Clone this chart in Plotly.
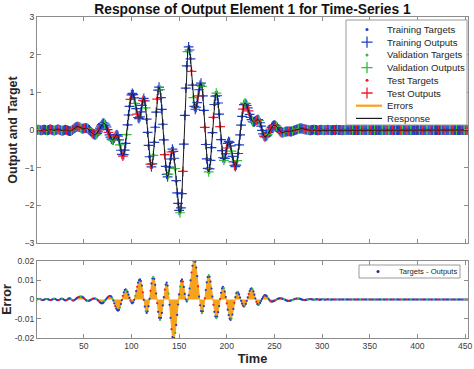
import plotly.graph_objects as go

N = 453
time = list(range(1, N + 1))

# Target values (t = 1..453)
targets = [
    0.00, 0.01, 0.01, 0.00, -0.01, -0.01, 0.00, 0.01, 0.01, 0.00,
    -0.01, -0.01, 0.00, 0.01, 0.02, 0.01, 0.00, -0.01, -0.02, -0.01,
    0.00, 0.01, 0.02, 0.01, 0.00, -0.01, -0.02, -0.02, -0.01, 0.00,
    0.01, 0.00, -0.01, -0.02, -0.03, -0.03, -0.02, 0.00, 0.02, 0.04,
    0.06, 0.08, 0.09, 0.09, 0.08, 0.07, 0.05, 0.04, 0.04, 0.04,
    0.05, 0.05, 0.05, 0.04, 0.02, 0.00, -0.03, -0.06, -0.09, -0.11,
    -0.12, -0.13, -0.12, -0.09, -0.05, 0.00, 0.05, 0.10, 0.14, 0.17,
    0.18, 0.17, 0.13, 0.08, 0.01, -0.06, -0.13, -0.19, -0.24, -0.27,
    -0.26, -0.22, -0.17, -0.14, -0.13, -0.17, -0.27, -0.40, -0.54, -0.65,
    -0.69, -0.65, -0.53, -0.35, -0.12, 0.14, 0.40, 0.63, 0.81, 0.93,
    0.97, 0.94, 0.85, 0.71, 0.57, 0.43, 0.34, 0.31, 0.36, 0.49,
    0.66, 0.79, 0.84, 0.77, 0.58, 0.28, -0.07, -0.41, -0.71, -0.90,
    -0.97, -0.89, -0.66, -0.32, 0.08, 0.48, 0.82, 1.05, 1.13, 1.06,
    0.85, 0.54, 0.15, -0.26, -0.65, -0.96, -1.17, -1.24, -1.17, -0.99,
    -0.78, -0.60, -0.53, -0.59, -0.77, -1.04, -1.36, -1.68, -1.95, -2.13,
    -2.19, -2.06, -1.68, -1.09, -0.37, 0.39, 1.11, 1.70, 2.08, 2.21,
    2.13, 1.90, 1.57, 1.21, 0.88, 0.65, 0.57, 0.62, 0.74, 0.91,
    1.07, 1.19, 1.24, 1.15, 0.90, 0.52, 0.07, -0.38, -0.76, -1.01,
    -1.10, -1.02, -0.80, -0.46, -0.07, 0.33, 0.67, 0.89, 0.97, 0.90,
    0.71, 0.42, 0.09, -0.25, -0.54, -0.73, -0.80, -0.75, -0.63, -0.48,
    -0.36, -0.31, -0.34, -0.43, -0.57, -0.71, -0.85, -0.94, -0.97, -0.93,
    -0.81, -0.62, -0.39, -0.13, 0.13, 0.36, 0.55, 0.67, 0.71, 0.70,
    0.65, 0.59, 0.51, 0.42, 0.34, 0.28, 0.23, 0.22, 0.22, 0.24,
    0.26, 0.27, 0.27, 0.25, 0.19, 0.10, -0.01, -0.10, -0.16, -0.18,
    -0.17, -0.15, -0.12, -0.07, -0.03, 0.02, 0.07, 0.10, 0.12, 0.13,
    0.12, 0.10, 0.07, 0.03, -0.01, -0.04, -0.06, -0.07, -0.07, -0.06,
    -0.05, -0.04, -0.04, -0.04, -0.04, -0.04, -0.04, -0.04, -0.03, -0.02,
    -0.01, 0.00, 0.01, 0.02, 0.03, 0.04, 0.04, 0.04, 0.04, 0.03,
    0.02, 0.02, 0.01, 0.01, 0.00, 0.00, -0.01, -0.01, 0.00, 0.00,
    0.01, 0.01, 0.00, 0.00, -0.01, -0.01, 0.00, 0.00, 0.01, 0.00,
    0.00, -0.01, 0.00, 0.00, 0.00, 0.01, 0.00, 0.00, 0.00, -0.01,
    0.00, 0.00, 0.00, 0.00, 0.01, 0.00, 0.00, 0.00, 0.00, 0.00,
    -0.01, 0.00, 0.00, 0.00, 0.00, 0.00, 0.01, 0.00, 0.00, 0.00,
    0.00, 0.00, 0.00, 0.00, 0.00, 0.00, 0.00, 0.00, 0.00, 0.00,
    0.00, 0.00, 0.00, 0.00, 0.00, 0.00, 0.00, 0.00, 0.00, 0.00,
    0.00, 0.00, 0.00, 0.00, 0.00, 0.00, 0.00, 0.00, 0.00, 0.00,
    0.00, 0.00, 0.00, 0.00, 0.00, 0.00, 0.00, 0.00, 0.00, 0.00,
    0.00, 0.00, 0.00, 0.00, 0.00, 0.00, 0.00, 0.00, 0.00, 0.00,
    0.00, 0.00, 0.00, 0.00, 0.00, 0.00, 0.00, 0.00, 0.00, 0.00,
    0.00, 0.00, 0.00, 0.00, 0.00, 0.00, 0.00, 0.00, 0.00, 0.00,
    0.00, 0.00, 0.00, 0.00, 0.00, 0.00, 0.00, 0.00, 0.00, 0.00,
    0.00, 0.00, 0.00, 0.00, 0.00, 0.00, 0.00, 0.00, 0.00, 0.00,
    0.00, 0.00, 0.00, 0.00, 0.00, 0.00, 0.00, 0.00, 0.00, 0.00,
    0.00, 0.00, 0.00, 0.00, 0.00, 0.00, 0.00, 0.00, 0.00, 0.00,
    0.00, 0.00, 0.00, 0.00, 0.00, 0.00, 0.00, 0.00, 0.00, 0.00,
    0.00, 0.00, 0.00,
]

# Errors (targets - outputs) in units of 1e-3
errors_e3 = [
    0.0, 0.2, 0.3, 0.2, 0.0, -0.2, -0.3, -0.2, 0.0, 0.2,
    0.3, 0.2, 0.0, -0.2, -0.3, -0.2, 0.0, 0.2, 0.4, 0.3,
    0.0, -0.3, -0.4, -0.3, 0.0, 0.3, 0.4, 0.3, 0.0, -0.3,
    -0.5, -0.4, 0.0, 0.4, 0.6, 0.4, 0.0, -0.4, -0.6, -0.4,
    0.0, 0.4, 0.8, 1.1, 1.3, 1.5, 1.5, 1.5, 1.2, 0.8,
    0.3, -0.2, -0.6, -0.8, -0.8, -0.6, -0.3, 0.0, 0.3, 0.5,
    0.5, 0.5, 0.3, 0.0, -0.5, -1.0, -1.5, -1.9, -2.0, -1.9,
    -1.5, -0.9, -0.2, 0.5, 1.1, 1.5, 1.8, 1.8, 1.5, 0.7,
    -0.5, -2.0, -3.5, -4.7, -5.5, -5.8, -5.4, -4.2, -2.4, -0.3,
    1.9, 3.7, 4.9, 5.3, 4.9, 3.9, 2.5, 0.8, -0.6, -1.6,
    -2.0, -1.5, -0.2, 1.9, 4.3, 6.6, 8.7, 10.0, 10.5, 9.6,
    7.2, 3.7, -0.2, -3.7, -6.1, -7.0, -6.1, -3.5, 0.3, 4.5,
    8.3, 10.9, 11.8, 10.7, 7.6, 3.1, -1.9, -6.4, -9.5, -10.6,
    -9.6, -7.0, -3.1, 1.2, 5.1, 7.7, 8.7, 7.2, 3.1, -2.8,
    -9.5, -15.4, -19.5, -21.0, -20.1, -17.3, -13.2, -8.0, -2.6, 2.6,
    6.7, 9.5, 10.4, 9.3, 6.5, 2.9, 0.1, -1.0, -0.2, 2.2,
    5.7, 9.9, 14.0, 17.5, 19.9, 20.7, 19.6, 16.6, 12.1, 6.8,
    1.5, -3.0, -6.0, -7.1, -6.1, -3.4, 0.6, 4.9, 8.9, 11.6,
    12.6, 11.8, 9.3, 5.7, 1.5, -2.8, -6.4, -8.9, -9.7, -8.9,
    -6.6, -3.4, 0.3, 3.5, 5.8, 6.6, 5.9, 4.1, 1.3, -2.0,
    -5.3, -8.1, -9.9, -10.6, -9.9, -7.8, -4.9, -1.7, 1.2, 3.3,
    4.0, 3.6, 2.6, 1.0, -0.7, -2.2, -3.3, -3.7, -3.3, -2.3,
    -0.8, 1.1, 2.9, 4.4, 5.4, 5.8, 5.4, 4.2, 2.5, 0.5,
    -1.2, -2.4, -2.8, -2.6, -1.8, -0.8, 0.3, 1.3, 2.0, 2.3,
    2.1, 1.7, 1.0, 0.2, -0.5, -1.0, -1.1, -1.1, -0.9, -0.7,
    -0.4, -0.1, 0.2, 0.4, 0.55, 0.6, 0.55, 0.45, 0.3, 0.1,
    -0.1, -0.4, -0.6, -0.75, -0.8, -0.75, -0.6, -0.4, -0.2, 0.0,
    0.2, 0.35, 0.45, 0.5, 0.5, 0.4, 0.3, 0.1, -0.1, -0.2,
    -0.3, -0.3, -0.2, -0.1, 0.0, 0.1, 0.2, 0.2, 0.1, 0.0,
    -0.1, -0.1, 0.0, 0.1, 0.1, 0.0, -0.1, -0.1, 0.0, 0.1,
    0.1, 0.0, -0.1, 0.0, 0.0, 0.1, 0.0, 0.0, -0.1, 0.0,
    0.0, 0.0, 0.0, 0.0, 0.0, 0.0, 0.0, 0.0, 0.0, 0.0,
    0.0, 0.0, 0.0, 0.0, 0.0, 0.0, 0.0, 0.0, 0.0, 0.0,
    0.0, 0.0, 0.0, 0.0, 0.0, 0.0, 0.0, 0.0, 0.0, 0.0,
    0.0, 0.0, 0.0, 0.0, 0.0, 0.0, 0.0, 0.0, 0.0, 0.0,
    0.0, 0.0, 0.0, 0.0, 0.0, 0.0, 0.0, 0.0, 0.0, 0.0,
    0.0, 0.0, 0.0, 0.0, 0.0, 0.0, 0.0, 0.0, 0.0, 0.0,
    0.0, 0.0, 0.0, 0.0, 0.0, 0.0, 0.0, 0.0, 0.0, 0.0,
    0.0, 0.0, 0.0, 0.0, 0.0, 0.0, 0.0, 0.0, 0.0, 0.0,
    0.0, 0.0, 0.0, 0.0, 0.0, 0.0, 0.0, 0.0, 0.0, 0.0,
    0.0, 0.0, 0.0, 0.0, 0.0, 0.0, 0.0, 0.0, 0.0, 0.0,
    0.0, 0.0, 0.0, 0.0, 0.0, 0.0, 0.0, 0.0, 0.0, 0.0,
    0.0, 0.0, 0.0, 0.0, 0.0, 0.0, 0.0, 0.0, 0.0, 0.0,
    0.0, 0.0, 0.0, 0.0, 0.0, 0.0, 0.0, 0.0, 0.0, 0.0,
    0.0, 0.0, 0.0, 0.0, 0.0, 0.0, 0.0, 0.0, 0.0, 0.0,
    0.0, 0.0, 0.0,
]

# Data division of each time step: T = training, V = validation, S = test
split_groups = [
    "TTVTTSTTTT", "VTTTSTTTVT", "TTTSTTVTTT", "TSTTTTVTST", "TTTTSTVTTT",
    "STTVTTTTST", "TTVTTSTTTT", "TVTTTSTTTV", "TTSTTTTVTT", "STTTVTTTST",
    "TTTVTSTTTT", "TSTTVTTTTS", "TTVTTTSTTV", "TTTTSTTTVT", "TSTTTVTTTT",
    "VTTSTTTTVT", "TTSTVTTTTS", "TTTVTTSTTT", "VTTTTSTTVT", "TTSTTTVTTS",
    "TTTTVTTSTT", "VTTTTTSTVT", "TTSTTTVTTT", "STTVTTTTST", "TTVTTSTTTT",
    "SVTTTTSTTV", "TTTTSTTTVT", "TSTTVTTTTT", "STTTVTSTTT", "TVTTTSTTTT",
    "VTTSTTTVTT", "TTSTTVTTTS", "TTTVTTTTST", "TVTTTSTTTV", "TTSTTTTVTT",
    "STTTVTTSTT", "TTVTTTSTTV", "TTTSTTVTTT", "TSTVTTTTST", "TTVTTTTSTT",
    "TVTTSTTTTV", "TTSTTTVTTT", "TSTTVTTTST", "TTTVTTSTTT", "VTTTTSTTVT",
    "TST",
]
split = "".join(split_groups)

group_keys = ["T", "V", "S"]
group_names = {"T": "Training", "V": "Validation", "S": "Test"}
top_legend_labels = [
    "Training Targets", "Training Outputs", "Validation Targets",
    "Validation Outputs", "Test Targets", "Test Outputs", "Errors", "Response",
]
bottom_legend_label = "Targets - Outputs"
xticks = [50, 100, 150, 200, 250, 300, 350, 400, 450]
yticks_top = [-3, -2, -1, 0, 1, 2, 3]
yticks_bottom = [-0.02, -0.01, 0, 0.01, 0.02]
yticktext_bottom = ["-0.02", "-0.01", "0", "0.01", "0.02"]

errors = [v * 1e-3 for v in errors_e3]
outputs = [t - e for t, e in zip(targets, errors)]

assert len(targets) == N, len(targets)
assert len(errors) == N, len(errors)
assert len(split) == N, len(split)

group_colors = {"T": "#1f3fc4", "V": "#2fbf3a", "S": "#ee1c2c"}
orange = "#f7a21b"
response_color = "#1a1a1a"
font_family = "Arial, Liberation Sans, Helvetica, sans-serif"
text_color = "#262626"

fig = go.Figure()

# ---- upper panel -------------------------------------------------------
for key in group_keys:
    idx = [i for i in range(N) if split[i] == key]
    xs = [time[i] for i in idx]
    fig.add_trace(go.Scatter(
        x=xs, y=[targets[i] for i in idx], mode="markers",
        name=group_names[key] + " Targets",
        marker=dict(symbol="circle", size=3, color=group_colors[key]),
        xaxis="x", yaxis="y",
    ))
    fig.add_trace(go.Scatter(
        x=xs, y=[outputs[i] for i in idx], mode="markers",
        name=group_names[key] + " Outputs",
        marker=dict(symbol="cross-thin", size=7,
                    line=dict(width=1.2, color=group_colors[key])),
        xaxis="x", yaxis="y",
    ))

# errors in the upper panel: segments from target to output
ex, ey = [], []
for i in range(N):
    ex += [time[i], time[i], None]
    ey += [targets[i], outputs[i], None]
fig.add_trace(go.Scatter(
    x=ex, y=ey, mode="lines", name="Errors",
    line=dict(color=orange, width=2), xaxis="x", yaxis="y",
))
fig.add_trace(go.Scatter(
    x=time, y=outputs, mode="lines", name="Response",
    line=dict(color=response_color, width=1), xaxis="x", yaxis="y",
))

# ---- lower panel -------------------------------------------------------
fig.add_trace(go.Scatter(
    x=time, y=errors, mode="lines", fill="tozeroy", name="Errors",
    fillcolor=orange, line=dict(color=orange, width=1),
    xaxis="x2", yaxis="y2",
))
for key in group_keys:
    idx = [i for i in range(N) if split[i] == key]
    fig.add_trace(go.Scatter(
        x=[time[i] for i in idx], y=[errors[i] for i in idx], mode="markers",
        name=bottom_legend_label,
        marker=dict(symbol="circle", size=2.2, color=group_colors[key]),
        xaxis="x2", yaxis="y2",
    ))

# ---- legends drawn on an overlay axis measured in figure pixels ----------
L, R, T, B = 37, 468, 17, 338   # plot-area edges in pixels
row_y0, row_dy = 29.5, 12.7
sym_x, line_x0, line_x1, text_x = 367, 356, 382, 385
top_box = dict(x0=346, x1=467, y0=20, y1=125)
bot_box = dict(x0=359, x1=460, y0=265, y1=278)

shapes = []
annotations = []
for box in (top_box, bot_box):
    shapes.append(dict(
        type="rect", xref="x3", yref="y3", layer="below",
        line=dict(color="#9a9a9a", width=1), fillcolor="white", **box,
    ))

symbol_spec = [
    ("dot", group_colors["T"]), ("cross", group_colors["T"]),
    ("dot", group_colors["V"]), ("cross", group_colors["V"]),
    ("dot", group_colors["S"]), ("cross", group_colors["S"]),
    ("line", orange), ("line", response_color),
]
for i, (label, (kind, color)) in enumerate(zip(top_legend_labels, symbol_spec)):
    yy = row_y0 + row_dy * i
    if kind == "dot":
        fig.add_trace(go.Scatter(
            x=[sym_x], y=[yy], mode="markers", xaxis="x3", yaxis="y3",
            marker=dict(symbol="circle", size=3, color=color),
            hoverinfo="skip",
        ))
    elif kind == "cross":
        fig.add_trace(go.Scatter(
            x=[sym_x], y=[yy], mode="markers", xaxis="x3", yaxis="y3",
            marker=dict(symbol="cross-thin", size=8,
                        line=dict(width=1.3, color=color)),
            hoverinfo="skip",
        ))
    else:
        fig.add_trace(go.Scatter(
            x=[line_x0, line_x1], y=[yy, yy], mode="lines",
            xaxis="x3", yaxis="y3", hoverinfo="skip",
            line=dict(color=color, width=2.2 if color == orange else 1.2),
        ))
    annotations.append(dict(
        text=label, x=text_x, y=yy, xref="x3", yref="y3",
        xanchor="left", yanchor="middle", showarrow=False,
        font=dict(family=font_family, size=9.6, color=text_color),
    ))

bot_y = (bot_box["y0"] + bot_box["y1"]) / 2
fig.add_trace(go.Scatter(
    x=[378], y=[bot_y], mode="markers", xaxis="x3", yaxis="y3",
    marker=dict(symbol="circle", size=3, color="#1a2f8a"), hoverinfo="skip",
))
annotations.append(dict(
    text=bottom_legend_label, x=397, y=bot_y, xref="x3", yref="y3",
    xanchor="left", yanchor="middle", showarrow=False,
    font=dict(family=font_family, size=7.6, color=text_color),
))

# ---- axes ----------------------------------------------------------------
axis_line = "#8c8c8c"
tick_font = dict(family=font_family, size=8.6, color="#3a3a3a")

common_x = dict(
    range=[1, N], tickvals=xticks, ticks="inside", ticklen=4,
    tickcolor=axis_line, showline=True, linecolor=axis_line, linewidth=1,
    mirror="ticks", showgrid=False, zeroline=False, tickfont=tick_font,
    automargin=False,
)
common_y = dict(
    ticks="inside", ticklen=4, tickcolor=axis_line, showline=True,
    linecolor=axis_line, linewidth=1, mirror="ticks", showgrid=False,
    zeroline=False, tickfont=tick_font, automargin=False,
)

fig.update_layout(
    width=474, height=369,
    margin=dict(l=L, r=474 - R, t=T, b=369 - B),
    paper_bgcolor="white", plot_bgcolor="rgba(0,0,0,0)",
    showlegend=False,
    font=dict(family=font_family, color=text_color),
    title=dict(
        text="Response of Output Element 1 for Time-Series 1",
        x=0.5, xref="paper", xanchor="center",
        y=1 - 9 / 369, yref="container", yanchor="middle",
        font=dict(family=font_family, size=13.8, color="#111111",
                  weight="bold"),
    ),
    xaxis=dict(common_x, domain=[0, 1], anchor="y", showticklabels=False),
    yaxis=dict(common_y, domain=[0.296, 1], anchor="x", range=[-3, 3],
               tickvals=yticks_top,
               title=dict(text="Output and Target", standoff=4,
                          font=dict(family=font_family, size=12.5,
                                    color=text_color, weight="bold"))),
    xaxis2=dict(common_x, domain=[0, 1], anchor="y2",
                title=dict(text="Time", standoff=3,
                           font=dict(family=font_family, size=12.8,
                                     color=text_color, weight="bold"))),
    yaxis2=dict(common_y, domain=[0, 0.24], anchor="x2", range=[-0.02, 0.02],
                tickvals=yticks_bottom, ticktext=yticktext_bottom,
                title=dict(text="Error", standoff=1,
                           font=dict(family=font_family, size=12.5,
                                     color=text_color, weight="bold"))),
    xaxis3=dict(domain=[0, 1], range=[L, R], anchor="y3", visible=False,
                fixedrange=True),
    yaxis3=dict(domain=[0, 1], range=[B, T], anchor="x3", visible=False,
                fixedrange=True),
    shapes=shapes,
    annotations=annotations,
)

fig.write_html(
    "out.html",
    config={"displayModeBar": False},
    post_script="document.body.style.margin='0px';",
)
